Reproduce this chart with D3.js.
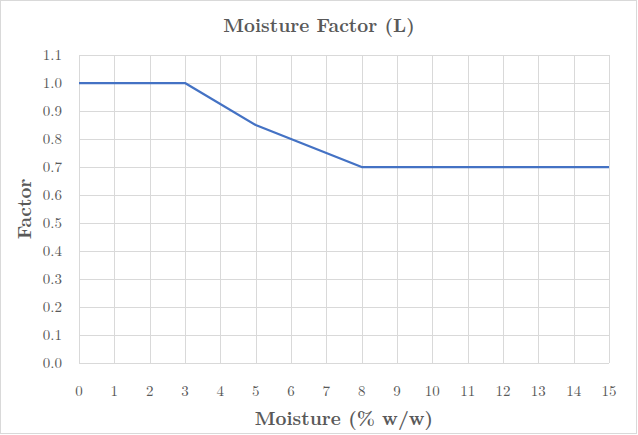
<!DOCTYPE html>
<html>
<head>
<meta charset="utf-8">
<script src="https://cdn.jsdelivr.net/npm/d3@7"></script>
<style>
  body { margin: 0; background: #fff; }
  text { font-family: "Latin Modern Roman", "Liberation Serif", "DejaVu Serif", serif; fill: #595959; }
</style>
</head>
<body>
<div id="chart"></div>
<script>
const moisture = [0, 3, 5, 8, 15];
const factor = [1.0, 1.0, 0.85, 0.7, 0.7];
const xTicks = d3.range(0, 16);
const yTicks = d3.range(0, 12).map(d => d / 10);

const width = 638, height = 435;
const margin = { top: 55, right: 29, bottom: 72, left: 79 };

const svg = d3.select("#chart").append("svg")
  .attr("width", width)
  .attr("height", height);

svg.append("rect")
  .attr("x", 0.5).attr("y", 0.5)
  .attr("width", width - 2).attr("height", height - 2)
  .attr("fill", "#fff")
  .attr("stroke", "#d9d9d9");

const x = d3.scaleLinear().domain([0, 15]).range([margin.left, width - margin.right]);
const y = d3.scaleLinear().domain([0, 1.1]).range([height - margin.bottom, margin.top]);

// gridlines
svg.append("g")
  .selectAll("line")
  .data(yTicks)
  .join("line")
  .attr("x1", x(0)).attr("x2", x(15))
  .attr("y1", d => Math.round(y(d)) + 0.5)
  .attr("y2", d => Math.round(y(d)) + 0.5)
  .attr("stroke", "#d9d9d9");

svg.append("g")
  .selectAll("line")
  .data(xTicks)
  .join("line")
  .attr("y1", y(0)).attr("y2", y(1.1))
  .attr("x1", d => Math.round(x(d)) + 0.5)
  .attr("x2", d => Math.round(x(d)) + 0.5)
  .attr("stroke", "#d9d9d9");

// tick labels
svg.append("g")
  .selectAll("text")
  .data(xTicks)
  .join("text")
  .attr("x", d => x(d))
  .attr("y", y(0) + 33)
  .attr("text-anchor", "middle")
  .style("font-size", "15px")
  .text(d => d);

svg.append("g")
  .selectAll("text")
  .data(yTicks)
  .join("text")
  .attr("x", x(0) - 17)
  .attr("y", d => y(d) + 5)
  .attr("text-anchor", "end")
  .style("font-size", "15px")
  .text(d => d.toFixed(1));

// line
const line = d3.line()
  .x((d, i) => x(moisture[i]))
  .y(d => y(d));

svg.append("path")
  .datum(factor)
  .attr("d", line)
  .attr("fill", "none")
  .attr("stroke", "#4472c4")
  .attr("stroke-width", 2.25)
  .attr("stroke-linejoin", "round");

// titles
svg.append("text")
  .attr("x", width / 2)
  .attr("y", 32)
  .attr("text-anchor", "middle")
  .style("font-size", "19px")
  .style("font-weight", "bold")
  .text("Moisture Factor (L)");

svg.append("text")
  .attr("x", (x(0) + x(15)) / 2)
  .attr("y", 425)
  .attr("text-anchor", "middle")
  .style("font-size", "19px")
  .style("font-weight", "bold")
  .text("Moisture (% w/w)");

svg.append("text")
  .attr("transform", `translate(31,${(y(0) + y(1.1)) / 2}) rotate(-90)`)
  .attr("text-anchor", "middle")
  .style("font-size", "19px")
  .style("font-weight", "bold")
  .text("Factor");
</script>
</body>
</html>
